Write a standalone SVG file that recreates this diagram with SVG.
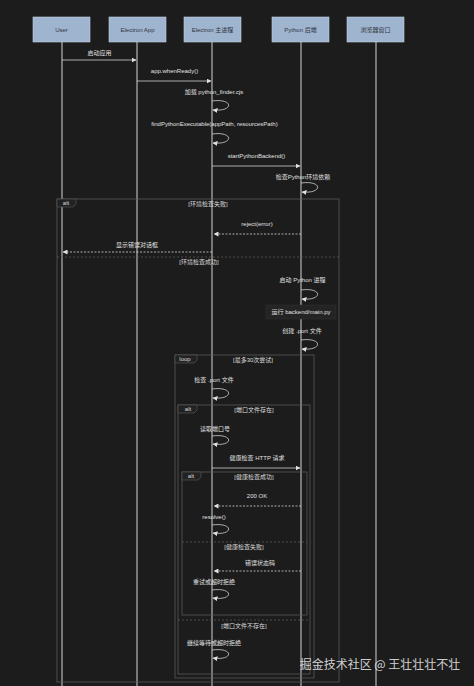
<svg xmlns="http://www.w3.org/2000/svg" width="474" height="686" viewBox="0 0 474 686">
<defs>
<style>
text{font-family:"Liberation Sans","Noto Sans CJK SC",sans-serif;font-size:6px;dominant-baseline:central;text-anchor:middle}
.actor rect{fill:#9fb4cf;stroke:#c0cfe2;stroke-width:0.6}
.actor text{fill:#2f3440}
.life{stroke:#a0a0a0;stroke-width:1.4}
.msg{stroke:#d0d0d0;stroke-width:0.8;fill:none}
.dash{stroke-dasharray:2 1.5}
.lbl{fill:#e0e0e0}
.frame{fill:none;stroke:#606060;stroke-width:0.7}
.sep{stroke:#606060;stroke-width:0.7;stroke-dasharray:2 2}
.lbox{fill:#222;stroke:#606060;stroke-width:0.6}
.ftxt{fill:#dcdcdc}
</style>
<marker id="ah" viewBox="0 0 10 10" refX="9" refY="5" markerWidth="5" markerHeight="5" orient="auto-start-reverse" markerUnits="userSpaceOnUse">
<path d="M0,0 L10,5 L0,10 z" fill="#e0e0e0"/>
</marker>
</defs>
<rect width="474" height="686" fill="#1c1c1c"/>

<g id="lifelines">
<line class="life" x1="62" y1="42" x2="62" y2="686"/>
<line class="life" x1="137" y1="42" x2="137" y2="686"/>
<line class="life" x1="212" y1="42" x2="212" y2="686"/>
<line class="life" x1="301" y1="42" x2="301" y2="686"/>
<line class="life" x1="376" y1="42" x2="376" y2="686"/>
</g>

<g id="user" class="actor"><rect x="33" y="17" width="57" height="25"/><text x="61.5" y="29.5">User</text></g>
<g id="electron-app" class="actor"><rect x="109" y="17" width="57" height="25"/><text x="137.5" y="29.5">Electron App</text></g>
<g id="electron-main" class="actor"><rect x="184" y="17" width="57" height="25"/><text x="212.5" y="29.5">Electron 主进程</text></g>
<g id="python-backend" class="actor"><rect x="272" y="17" width="57" height="25"/><text x="300.5" y="29.5">Python 后端</text></g>
<g id="browser-window" class="actor"><rect x="347" y="17" width="57" height="25"/><text x="375.5" y="29.5">浏览器窗口</text></g>

<g id="frames">
<rect class="frame" x="57" y="199" width="282" height="483"/>
<path class="lbox" d="M57,199 H76 V204 L73,207 H57 Z"/>
<text class="ftxt" x="66" y="203">alt</text>
<text class="ftxt" x="208" y="204">[环境检查失败]</text>
<line class="sep" x1="57" y1="257" x2="339" y2="257"/>
<text class="ftxt" x="199" y="262">[环境检查成功]</text>

<rect class="frame" x="175" y="355" width="139" height="323"/>
<path class="lbox" d="M175,355 H197 V360 L194,363 H175 Z"/>
<text class="ftxt" x="185" y="359">loop</text>
<text class="ftxt" x="253" y="360">[最多30次尝试]</text>

<rect class="frame" x="178" y="405" width="132" height="269"/>
<path class="lbox" d="M178,405 H197 V410 L194,413 H178 Z"/>
<text class="ftxt" x="188" y="409">alt</text>
<text class="ftxt" x="254" y="410">[端口文件存在]</text>
<line class="sep" x1="178" y1="620" x2="310" y2="620"/>
<text class="ftxt" x="244" y="626">[端口文件不存在]</text>

<rect class="frame" x="182" y="472" width="125" height="143"/>
<path class="lbox" d="M182,472 H201 V477 L198,480 H182 Z"/>
<text class="ftxt" x="191" y="476">alt</text>
<text class="ftxt" x="254" y="477">[健康检查成功]</text>
<line class="sep" x1="182" y1="542" x2="307" y2="542"/>
<text class="ftxt" x="244" y="547">[健康检查失败]</text>
</g>

<g id="note-run-backend">
<rect x="266" y="305" width="70" height="14" fill="#242424" stroke="#333" stroke-width="0.5"/>
<text class="lbl" x="301" y="312">运行 backend/main.py</text>
</g>

<g id="connectors">
<text class="lbl" x="99.5" y="53">启动应用</text>
<line class="msg" x1="62" y1="60" x2="136" y2="60" marker-end="url(#ah)"/>

<text class="lbl" x="174.5" y="71">app.whenReady()</text>
<line class="msg" x1="137" y1="81" x2="211" y2="81" marker-end="url(#ah)"/>

<text class="lbl" x="214" y="92">加载 python_finder.cjs</text>
<path class="msg" d="M212,101 C234,98 234,112 213,110" marker-end="url(#ah)"/>

<text class="lbl" x="214.5" y="124">findPythonExecutable(appPath, resourcesPath)</text>
<path class="msg" d="M212,134 C234,131 234,145 213,143" marker-end="url(#ah)"/>

<text class="lbl" x="256.5" y="156">startPythonBackend()</text>
<line class="msg" x1="212" y1="166" x2="300" y2="166" marker-end="url(#ah)"/>

<text class="lbl" x="303" y="177">检查Python环境依赖</text>
<path class="msg" d="M301,183 C323,180 323,194 302,192" marker-end="url(#ah)"/>

<text class="lbl" x="257" y="224">reject(error)</text>
<line class="msg dash" x1="301" y1="234" x2="214" y2="234" marker-end="url(#ah)"/>

<text class="lbl" x="137" y="245">显示错误对话框</text>
<line class="msg dash" x1="212" y1="252" x2="63" y2="252" marker-end="url(#ah)"/>

<text class="lbl" x="302.5" y="280">启动 Python 进程</text>
<path class="msg" d="M301,290 C323,287 323,301 302,299" marker-end="url(#ah)"/>

<text class="lbl" x="302" y="331">创建 .port 文件</text>
<path class="msg" d="M301,340 C323,337 323,351 302,349" marker-end="url(#ah)"/>

<text class="lbl" x="214" y="380">检查 .port 文件</text>
<path class="msg" d="M212,389 C234,386 234,400 213,398" marker-end="url(#ah)"/>

<text class="lbl" x="215" y="429">读取端口号</text>
<path class="msg" d="M212,436 C234,433 234,447 213,444" marker-end="url(#ah)"/>

<text class="lbl" x="257" y="458">健康检查 HTTP 请求</text>
<line class="msg" x1="212" y1="468" x2="300" y2="468" marker-end="url(#ah)"/>

<text class="lbl" x="257" y="496">200 OK</text>
<line class="msg dash" x1="301" y1="506" x2="214" y2="506" marker-end="url(#ah)"/>

<text class="lbl" x="214" y="517">resolve()</text>
<path class="msg" d="M212,525 C234,522 234,536 213,533" marker-end="url(#ah)"/>

<text class="lbl" x="260" y="563">错误状态码</text>
<line class="msg dash" x1="301" y1="571" x2="214" y2="571" marker-end="url(#ah)"/>

<text class="lbl" x="214" y="582">重试或超时拒绝</text>
<path class="msg" d="M212,590 C234,587 234,601 213,598" marker-end="url(#ah)"/>

<text class="lbl" x="214" y="643">继续等待或超时拒绝</text>
<path class="msg" d="M212,650 C234,647 234,661 213,658" marker-end="url(#ah)"/>
</g>

<text x="380" y="663" style="font-family:'Noto Sans CJK SC',sans-serif;font-size:12px;fill:#e6e6e6;fill-opacity:0.9">掘金技术社区 @ 王壮壮壮不壮</text>
</svg>
